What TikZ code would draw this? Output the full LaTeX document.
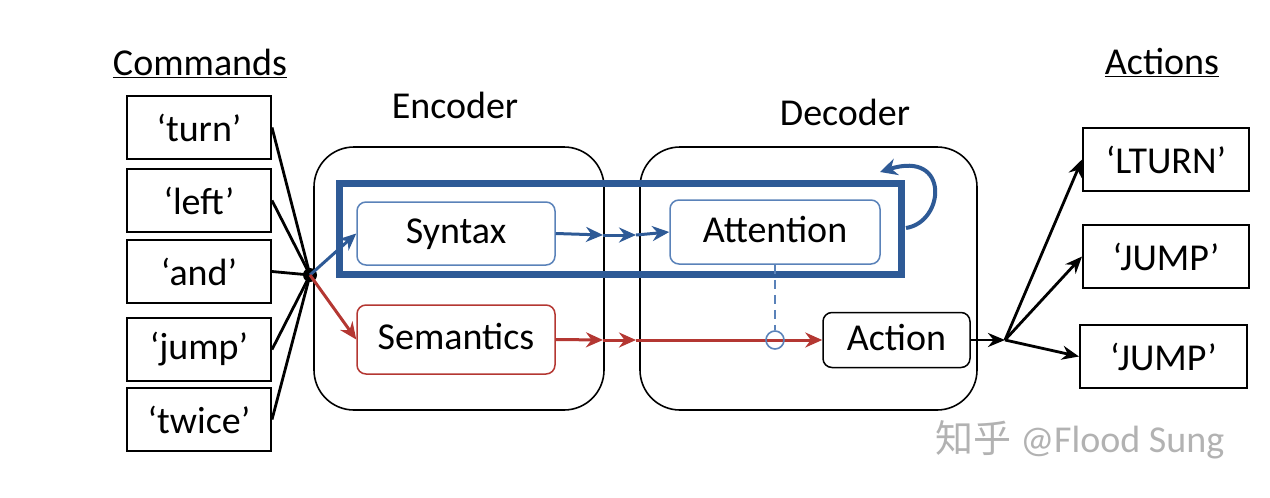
\documentclass[tikz,border=0pt]{standalone}
\usepackage{fontspec}
\setmainfont{Carlito}
\newfontfamily\cjk{Noto Sans CJK SC}
\usetikzlibrary{arrows.meta}
\definecolor{bl}{RGB}{46,90,150}
\definecolor{lbl}{RGB}{90,130,185}
\definecolor{rd}{RGB}{180,55,50}
\begin{document}
\begin{tikzpicture}[x=1pt,y=-1pt,
  txt/.style={font=\fontsize{38}{44}\selectfont},
  word/.style={draw,line width=2pt,minimum width=144pt,minimum height=63pt,txt,inner sep=0},
  mod/.style={draw,rounded corners=9pt,line width=1.5pt,txt,inner sep=0,text depth=6pt,text height=26pt},
  big/.style={draw,rounded corners=40pt,line width=1.6pt},
  blk/.style={line width=2.8pt,-{Stealth[length=17pt,width=14pt]}},
  ba/.style={bl,line width=3pt,-{Stealth[length=17pt,width=15pt]}},
  ra/.style={rd,line width=3pt,-{Stealth[length=17pt,width=15pt]}}]
\useasboundingbox (0,0) rectangle (1270,498);
\node[txt] (cmd) at (200,63) {\underline{Commands}};
\node[txt] (act) at (1162,63) {\underline{Actions}};
\node[word] (w1) at (199,127.5) {‘turn’};
\node[word] (w2) at (199,200.5) {‘left’};
\node[word] (w3) at (199,271.5) {‘and’};
\node[word] (w4) at (199,349.5) {‘jump’};
\node[word] (w5) at (199,419.5) {‘twice’};
\node[big,minimum width=290pt,minimum height=263pt] (enc) at (459,278.5) {};
\node[big,minimum width=337pt,minimum height=263pt] (dec) at (808.5,278.5) {};
\node[txt] (encl) at (455,105) {Encoder};
\node[txt] (decl) at (845,112) {Decoder};
\node[draw=bl,line width=7pt,minimum width=562pt,minimum height=91pt] (rnn) at (620.5,229) {};
\node[mod,draw=lbl,minimum width=198pt,minimum height=63pt] (syn) at (456,233.5) {Syntax};
\node[mod,draw=lbl,minimum width=210pt,minimum height=64pt] (att) at (775,232) {Attention};
\node[mod,draw=rd,minimum width=198pt,minimum height=69pt] (sem) at (456,339.5) {Semantics};
\node[mod,draw=black,minimum width=147pt,minimum height=55pt] (actn) at (896.5,340) {Action};
\node[word,minimum width=166pt] (o1) at (1166,159.5) {‘LTURN’};
\node[word,minimum width=166pt] (o2) at (1166,256.5) {‘JUMP’};
\node[word,minimum width=167pt] (o3) at (1163.5,356.5) {‘JUMP’};
\coordinate (j) at (310,275);
\foreach \w in {w1,w2,w3,w4,w5} \draw[line width=2.8pt] (\w.east) -- (j);
\fill (j) circle (7pt);
\draw[ba] (j) -- (syn.west);
\draw[ra] (j) -- (sem.west);
\coordinate (s1) at (603,235); \coordinate (s2) at (636,235);
\draw[ba] (syn.east) -- (s1);
\draw[ba] (s1) -- (s2);
\draw[ba] (s2) -- (att.west);
\coordinate (r1) at (603,340); \coordinate (r2) at (636,340);
\draw[ra] (sem.east) -- (r1);
\draw[ra] (r1) -- (r2);
\draw[ra] (r2) -- (actn.west);
\node[draw=lbl,circle,line width=1.6pt,minimum size=18pt,inner sep=0] (c) at (775,340) {};
\draw[lbl,dash pattern=on 9pt off 6pt,line width=2pt] (att.south) -- (c.north);
\coordinate (l1) at (906,228); \coordinate (l2) at (880,172);
\draw[bl,line width=4pt,-{Stealth[length=17pt,width=17pt]}] (l1) .. controls (945,222) and (950,150) .. (l2);
\coordinate (aj) at (1005,340);
\draw[blk] (actn.east) -- (aj);
\draw[blk] (aj) -- (o1.west);
\draw[blk] (aj) -- (o2.west);
\draw[blk] (aj) -- (o3.west);
\node[gray!60,font=\fontsize{38}{44}\selectfont] (wm) at (1080,440) {{\cjk 知乎} @Flood Sung};
\end{tikzpicture}
\end{document}
